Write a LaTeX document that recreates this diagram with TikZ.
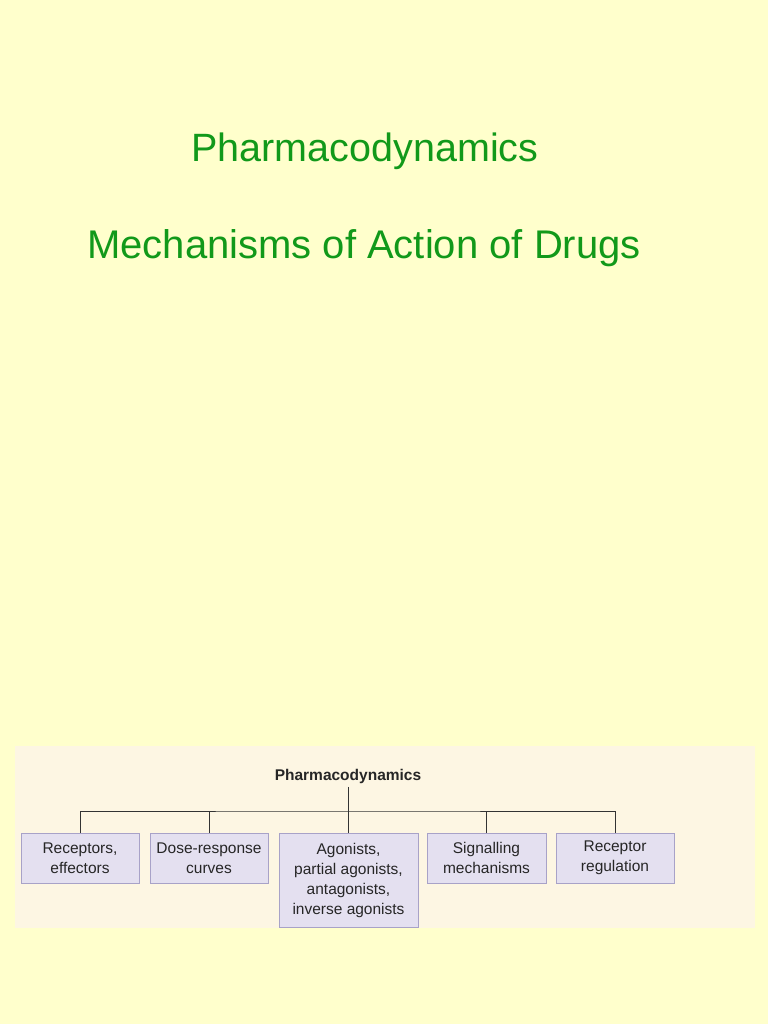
\documentclass[tikz,border=0pt]{standalone}
\usepackage{fontspec}
\setmainfont{Liberation Sans}
\begin{document}
\begin{tikzpicture}[x=1pt,y=-1pt,
  bx/.style={draw=boxline,fill=boxfill,line width=0.8pt,align=center,text=black!85,font=\fontsize{15.5}{20}\selectfont,inner sep=0pt},
  ln/.style={draw=black!80,line width=0.8pt}]
\definecolor{bg}{HTML}{FFFFCC}
\definecolor{panel}{HTML}{FDF6E3}
\definecolor{boxfill}{HTML}{E4E0F0}
\definecolor{boxline}{HTML}{A8A2C8}
\definecolor{ttl}{HTML}{11991A}
\fill[bg] (0,0) rectangle (768,1024);
\useasboundingbox (0,0) rectangle (768,1024);
\node[text=ttl,font=\fontsize{39.5}{44}\selectfont] (t1) at (365,151) {Pharmacodynamics};
\node[text=ttl,font=\fontsize{40}{44}\selectfont] (t2) at (364,248) {Mechanisms of Action of Drugs};
\fill[panel] (15,746) rectangle (755,928);
\node[font=\bfseries\fontsize{15.5}{16}\selectfont,text=black!85] (p) at (348,776) {Pharmacodynamics};
\node[bx,minimum width=118,minimum height=50] (b1) at (80,858) {Receptors,\\effectors};
\node[bx,minimum width=118,minimum height=50] (b2) at (209,858) {Dose-response\\curves};
\node[bx,minimum width=139,minimum height=94,anchor=north] (b3) at (348.5,833) {Agonists,\\partial agonists,\\antagonists,\\inverse agonists};
\node[bx,minimum width=119,minimum height=50] (b4) at (486.5,858) {Signalling\\mechanisms};
\node[bx,minimum width=118,minimum height=50] (b5) at (615,858) {Receptor\\regulation};
\coordinate (h) at (348,811);
\draw[ln] (p.south -| b3.north) -- (b3.north);
\draw[ln] (b1.north) |- (h) -| (b5.north);
\draw[ln] (b2.north) -- (b2.north |- h);
\draw[ln] (b4.north) -- (b4.north |- h);
\end{tikzpicture}
\end{document}
